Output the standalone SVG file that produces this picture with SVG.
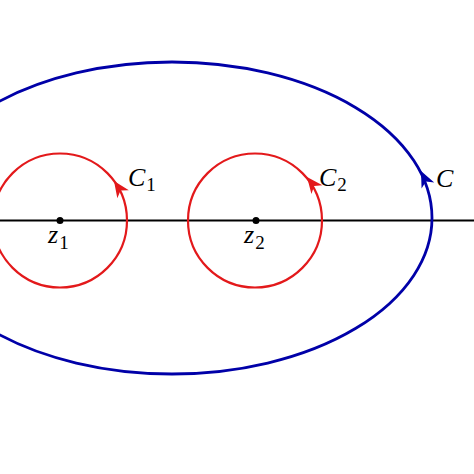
<svg xmlns="http://www.w3.org/2000/svg" width="474" height="474" viewBox="0 0 474 474">
<style>
.red{fill:none;stroke:#e3191b;stroke-width:2.2}
.blue{fill:none;stroke:#0000a8;stroke-width:2.8}
.axis{stroke:#000;stroke-width:1.8}
.lbl{font-family:"Liberation Serif",serif;font-style:italic;font-size:26px;fill:#000}
.sub{font-family:"Liberation Serif",serif;font-style:normal;font-size:19px;fill:#000}
</style>
<defs>
<path id="ah" d="M0,0 L-16,-7 L-11.5,0 L-16,7 Z"/>
</defs>
<rect width="474" height="474" fill="#fff"/>
<g id="connectors">
<line class="axis" x1="0" y1="220.5" x2="474" y2="220.5"/>
</g>
<g id="C">
<ellipse class="blue" cx="172" cy="218" rx="260" ry="156"/>
<use href="#ah" fill="#0000a8" transform="translate(421,171) rotate(-115.5)"/>
<text class="lbl" x="436" y="187">C</text>
</g>
<g id="C1">
<circle class="red" cx="60" cy="220.5" r="67"/>
<use href="#ah" fill="#e3191b" transform="translate(114,181) rotate(-124.6)"/>
<text class="lbl" x="128" y="186">C<tspan class="sub" dx="1" dy="5">1</tspan></text>
</g>
<g id="C2">
<circle class="red" cx="255" cy="220.5" r="67"/>
<use href="#ah" fill="#e3191b" transform="translate(307,177) rotate(-128.4)"/>
<text class="lbl" x="319" y="186">C<tspan class="sub" dx="1" dy="5">2</tspan></text>
</g>
<g id="z1">
<circle cx="60" cy="220.5" r="3.5" fill="#000"/>
<text class="lbl" x="48" y="243">z<tspan class="sub" dx="1" dy="6">1</tspan></text>
</g>
<g id="z2">
<circle cx="256" cy="220.5" r="3.5" fill="#000"/>
<text class="lbl" x="244" y="243">z<tspan class="sub" dx="1" dy="6">2</tspan></text>
</g>
</svg>
